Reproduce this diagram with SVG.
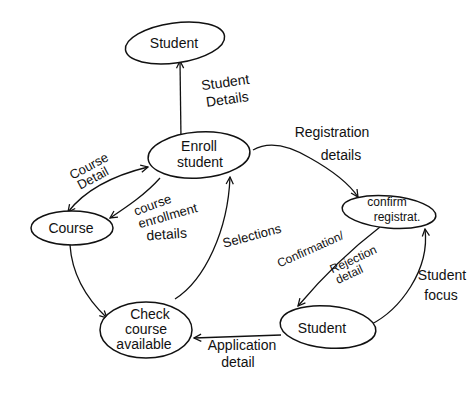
<svg xmlns="http://www.w3.org/2000/svg" width="474" height="405" viewBox="0 0 474 405">
<defs>
<marker id="ah" viewBox="0 0 10 10" refX="9" refY="5" markerWidth="9" markerHeight="9" orient="auto-start-reverse" markerUnits="userSpaceOnUse">
<path d="M1,1 L9,5 L1,9" fill="none" stroke="#111" stroke-width="1.4"/>
</marker>
<style>
.n{fill:#fff;stroke:#111;stroke-width:1.5}
.c{fill:none;stroke:#111;stroke-width:1.3}
text{font-family:"Liberation Sans","DejaVu Sans",sans-serif;fill:#111;text-anchor:middle}
.t{font-size:14px}
.l{font-size:12px}
.m{font-size:13px}
</style>
</defs>
<rect width="474" height="405" fill="#fff"/>
<g id="connectors">
<path class="c" d="M181,140 L180,61" marker-end="url(#ah)"/>
<path class="c" d="M148,167 C115,175 85,190 68,212" marker-start="url(#ah)" marker-end="url(#ah)"/>
<path class="c" d="M160,178 C145,195 125,208 110,218" marker-end="url(#ah)"/>
<path class="c" d="M70,245 C72,275 88,300 107,318" marker-end="url(#ah)"/>
<path class="c" d="M175,299 C205,280 228,230 230,177" marker-end="url(#ah)"/>
<path class="c" d="M253,150 C270,140 290,146 310,158 C335,172 350,185 358,197" marker-end="url(#ah)"/>
<path class="c" d="M380,227 C350,250 320,280 298,306" marker-end="url(#ah)"/>
<path class="c" d="M370,325 C400,310 430,270 425,229" marker-end="url(#ah)"/>
<path class="c" d="M281,335 L194,338" marker-end="url(#ah)"/>
</g>
<g id="student-top">
<ellipse class="n" cx="175" cy="43" rx="50" ry="20" transform="rotate(-8 175 43)"/>
<text class="t" x="174" y="48">Student</text>
</g>
<g id="enroll-student">
<ellipse class="n" cx="199" cy="155" rx="51" ry="23" transform="rotate(-4 199 155)"/>
<text class="t" x="199" y="151">Enroll</text>
<text class="t" x="200" y="167">student</text>
</g>
<g id="course">
<ellipse class="n" cx="72" cy="228" rx="41" ry="17"/>
<text class="t" x="71" y="233">Course</text>
</g>
<g id="check-course">
<ellipse class="n" cx="146" cy="330" rx="46" ry="28"/>
<text class="t" x="150" y="319">Check</text>
<text class="t" x="146" y="334">course</text>
<text class="t" x="144" y="349">available</text>
</g>
<g id="confirm-registration">
<ellipse class="n" cx="389" cy="212" rx="47" ry="16" transform="rotate(5 389 212)"/>
<text class="l" x="387" y="206">confirm</text>
<text class="l" x="397" y="221">registrat.</text>
</g>
<g id="student-bottom">
<ellipse class="n" cx="328" cy="327" rx="48" ry="21" transform="rotate(5 328 327)"/>
<text class="t" x="322" y="333">Student</text>
</g>
<g id="labels">
<text class="t" x="226" y="87" transform="rotate(-8 226 87)">Student</text>
<text class="t" x="228" y="104" transform="rotate(-8 228 104)">Details</text>
<text class="m" x="91" y="170" transform="rotate(-28 91 170)">Course</text>
<text class="m" x="95" y="182" transform="rotate(-28 95 182)">Detail</text>
<text class="m" x="154" y="209" transform="rotate(-20 154 209)">course</text>
<text class="m" x="169" y="220" transform="rotate(-16 169 220)">enrollment</text>
<text class="t" x="167" y="239" transform="rotate(-4 167 239)">details</text>
<text class="m" x="253" y="240" transform="rotate(-15 253 240)">Selections</text>
<text class="t" x="332" y="137">Registration</text>
<text class="t" x="341" y="160">details</text>
<text class="l" x="312" y="253" transform="rotate(-24 312 253)">Confirmation/</text>
<text class="l" x="355" y="263" transform="rotate(-25 355 263)">Rejection</text>
<text class="l" x="351" y="278" transform="rotate(-25 351 278)">detail</text>
<text class="t" x="442" y="280">Student</text>
<text class="t" x="441" y="300">focus</text>
<text class="t" x="242" y="350">Application</text>
<text class="t" x="238" y="367">detail</text>
</g>
</svg>
